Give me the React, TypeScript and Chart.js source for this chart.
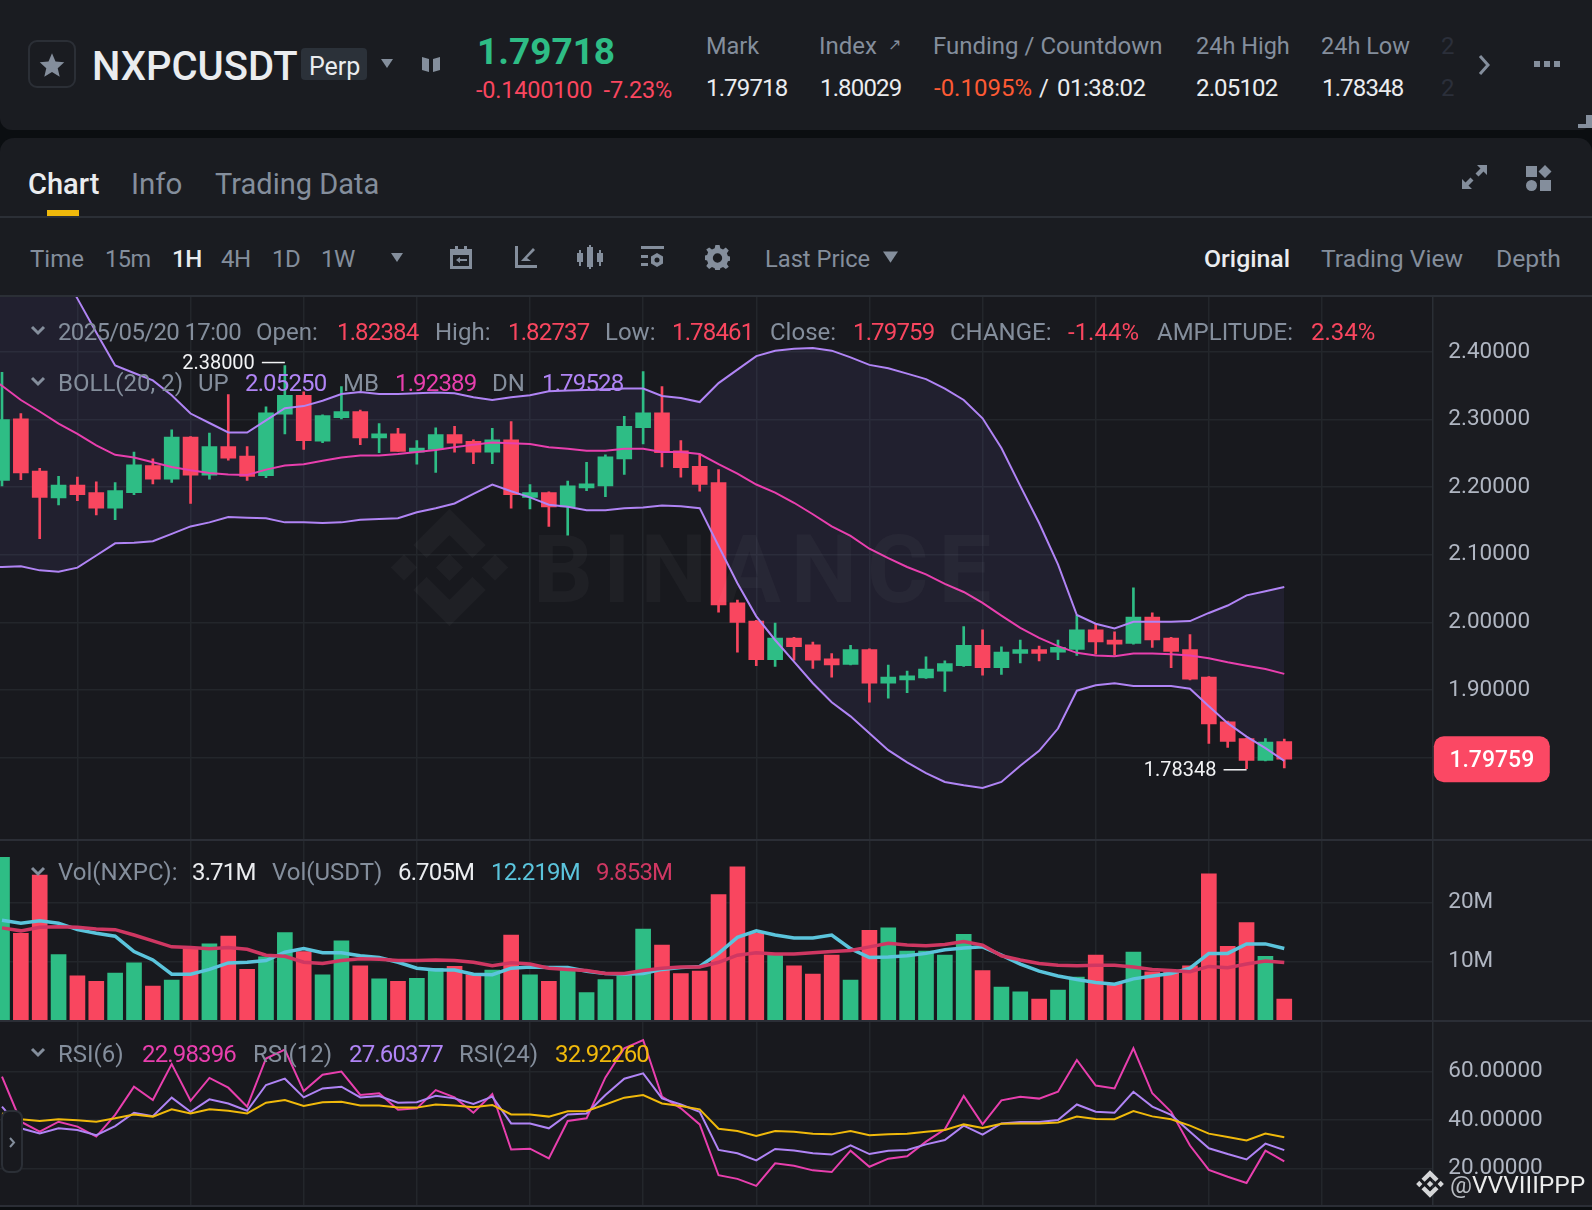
import { useEffect, useRef } from "react";
import { Chart, registerables } from "chart.js";

Chart.register(...registerables);

const candleOpen = [
  2.21, 2.301, 2.224, 2.184, 2.203, 2.192, 2.169, 2.192, 2.232, 2.212, 2.274, 2.218, 2.26, 2.246, 2.217, 2.308, 2.336, 2.268,
  2.303, 2.312, 2.273, 2.279, 2.252, 2.256, 2.278, 2.268, 2.252, 2.27, 2.185, 2.192, 2.171, 2.199, 2.202, 2.242, 2.288, 2.31,
  2.254, 2.231, 2.207, 2.029, 2.002, 1.945, 1.977, 1.967, 1.946, 1.938, 1.96, 1.91, 1.915, 1.918, 1.928, 1.936, 1.966, 1.933,
  1.954, 1.96, 1.956, 1.96, 1.989, 1.974, 1.969, 2.008, 1.977, 1.96, 1.919, 1.853, 1.828, 1.796, 1.82384,
];
const candleHigh = [
  2.37, 2.309, 2.228, 2.216, 2.215, 2.208, 2.207, 2.252, 2.242, 2.285, 2.275, 2.28, 2.337, 2.26, 2.319, 2.38, 2.341, 2.307,
  2.349, 2.314, 2.294, 2.287, 2.269, 2.288, 2.29, 2.27, 2.287, 2.297, 2.204, 2.193, 2.209, 2.237, 2.248, 2.305, 2.371, 2.349,
  2.269, 2.249, 2.226, 2.033, 2.003, 1.999, 1.978, 1.971, 1.954, 1.966, 1.961, 1.937, 1.928, 1.949, 1.943, 1.994, 1.989, 1.964,
  1.974, 1.965, 1.974, 2.011, 1.997, 1.986, 2.051, 2.014, 1.978, 1.982, 1.92, 1.854, 1.829, 1.828, 1.82737,
];
const candleLow = [
  2.202, 2.211, 2.124, 2.174, 2.18, 2.159, 2.152, 2.189, 2.205, 2.207, 2.176, 2.212, 2.24, 2.21, 2.214, 2.279, 2.256, 2.266,
  2.301, 2.263, 2.251, 2.253, 2.234, 2.222, 2.252, 2.235, 2.235, 2.169, 2.168, 2.142, 2.129, 2.195, 2.186, 2.219, 2.264, 2.23,
  2.215, 2.194, 2.015, 1.956, 1.936, 1.935, 1.944, 1.932, 1.919, 1.937, 1.882, 1.888, 1.896, 1.917, 1.898, 1.935, 1.922, 1.923,
  1.94, 1.943, 1.945, 1.951, 1.953, 1.952, 1.968, 1.963, 1.933, 1.915, 1.821, 1.815, 1.78348, 1.795, 1.78461,
];
const candleClose = [
  2.3, 2.221, 2.185, 2.203, 2.189, 2.169, 2.195, 2.233, 2.212, 2.274, 2.218, 2.26, 2.243, 2.216, 2.31, 2.336, 2.269, 2.306,
  2.312, 2.273, 2.279, 2.253, 2.258, 2.278, 2.265, 2.252, 2.27, 2.189, 2.192, 2.171, 2.202, 2.205, 2.245, 2.29, 2.31, 2.251,
  2.229, 2.204, 2.026, 2.0, 1.945, 1.977, 1.964, 1.944, 1.937, 1.96, 1.91, 1.919, 1.921, 1.931, 1.939, 1.966, 1.933, 1.956,
  1.96, 1.954, 1.963, 1.989, 1.971, 1.968, 2.008, 1.974, 1.957, 1.916, 1.85, 1.824, 1.796, 1.823, 1.79759,
];

const bollUp = [
  2.65, 2.62, 2.58, 2.53, 2.479, 2.429, 2.38, 2.369, 2.358, 2.336, 2.309, 2.295, 2.281, 2.281, 2.299, 2.317, 2.32, 2.328,
  2.338, 2.341, 2.338, 2.338, 2.339, 2.34, 2.339, 2.333, 2.329, 2.333, 2.336, 2.342, 2.343, 2.344, 2.345, 2.346, 2.346, 2.335,
  2.332, 2.326, 2.354, 2.374, 2.394, 2.402, 2.405, 2.406, 2.402, 2.392, 2.381, 2.376, 2.368, 2.36, 2.346, 2.329, 2.302, 2.258,
  2.202, 2.147, 2.086, 2.011, 1.998, 1.991, 2.001, 2.001, 2.001, 2.002, 2.014, 2.025, 2.04, 2.046, 2.0525,
];
const bollMid = [
  2.35, 2.329, 2.312, 2.294, 2.279, 2.262, 2.248, 2.244, 2.237, 2.23, 2.225, 2.221, 2.219, 2.218, 2.226, 2.232, 2.234, 2.239,
  2.244, 2.247, 2.247, 2.249, 2.252, 2.255, 2.259, 2.263, 2.266, 2.265, 2.264, 2.259, 2.257, 2.254, 2.254, 2.257, 2.257, 2.252,
  2.252, 2.249, 2.234, 2.22, 2.204, 2.192, 2.177, 2.16, 2.142, 2.128, 2.109, 2.095, 2.082, 2.071, 2.057, 2.045, 2.029, 2.01,
  1.992, 1.977, 1.965, 1.955, 1.951, 1.95, 1.954, 1.954, 1.953, 1.951, 1.947, 1.941, 1.936, 1.931, 1.92389,
];
const bollDown = [
  2.082, 2.083, 2.077, 2.075, 2.081, 2.099, 2.117, 2.118, 2.12, 2.131, 2.142, 2.148, 2.156, 2.155, 2.154, 2.148, 2.148, 2.147,
  2.148, 2.152, 2.153, 2.154, 2.163, 2.169, 2.176, 2.19, 2.204, 2.194, 2.185, 2.174, 2.171, 2.166, 2.166, 2.169, 2.17, 2.173,
  2.172, 2.169, 2.113, 2.058, 2.009, 1.974, 1.942, 1.91, 1.882, 1.861, 1.836, 1.811, 1.793, 1.777, 1.764, 1.759, 1.755, 1.764,
  1.788, 1.81, 1.843, 1.899, 1.907, 1.91, 1.906, 1.906, 1.906, 1.902, 1.876, 1.851, 1.831, 1.814, 1.79528,
];
// the candle just off the left edge, so the band reaches the edge of the panel
const bollBefore = { up: 2.68, mid: 2.37, down: 2.081 };

const volume = [
  27.6, 14.8, 24.6, 11.2, 7.6, 6.7, 8.1, 9.8, 5.9, 6.9, 12.2, 13.0, 14.3, 8.7, 10.8, 14.9, 11.7, 7.8,
  13.5, 9.3, 7.1, 6.7, 7.2, 8.9, 9.2, 7.8, 8.6, 14.5, 7.8, 6.7, 8.9, 4.8, 7.0, 7.6, 15.5, 12.8,
  8.0, 8.4, 21.3, 26.0, 14.8, 11.1, 9.3, 7.9, 11.1, 6.9, 15.3, 15.7, 11.8, 11.8, 11.1, 14.6, 8.5, 5.7,
  4.9, 3.7, 5.2, 7.4, 11.1, 6.3, 11.6, 8.3, 8.3, 9.3, 24.8, 12.6, 16.6, 10.9, 3.71,
];
const volAvgFast = [
  17.0, 16.5, 16.9, 16.5, 15.4, 14.8, 14.3, 11.7, 10.3, 7.9, 7.9, 8.7, 9.8, 9.9, 10.2, 11.6, 12.2, 11.5,
  11.5, 11.0, 10.7, 9.9, 8.9, 8.6, 8.6, 7.9, 7.8, 8.9, 9.1, 9.0, 9.0, 8.4, 8.0, 7.9, 8.0, 8.7,
  9.0, 9.2, 11.4, 14.1, 15.2, 14.5, 14.0, 14.0, 14.5, 12.2, 10.7, 10.8, 11.0, 11.4, 12.0, 12.3, 12.5, 11.1,
  9.6, 8.4, 7.6, 7.0, 6.5, 6.2, 7.1, 7.6, 8.0, 8.9, 11.4, 11.4, 13.0, 13.0, 12.219,
];
const volAvgSlow = [
  15.7, 15.2, 15.8, 15.9, 15.8, 15.5, 15.4, 14.5, 13.5, 12.5, 12.4, 12.2, 12.4, 12.1, 11.1, 10.9, 9.9, 9.7,
  10.2, 10.5, 10.4, 10.2, 10.2, 10.3, 10.2, 9.9, 9.3, 9.8, 9.6, 8.9, 8.7, 8.5, 8.0, 8.0, 8.5, 8.9,
  9.1, 9.1, 9.9, 11.1, 11.5, 11.3, 11.3, 11.5, 11.7, 11.9, 12.5, 13.1, 12.8, 12.7, 12.9, 13.4, 12.8, 11.0,
  10.3, 9.7, 9.4, 9.3, 9.4, 9.4, 9.1, 8.7, 8.5, 8.3, 9.2, 9.0, 9.6, 10.1, 9.853,
];

const rsi6 = [
  57.8, 39.3, 35.2, 39.3, 37.3, 33.2, 42.1, 53.7, 48.2, 63.0, 47.9, 57.3, 53.3, 45.5, 65.3, 69.0, 51.9, 58.6,
  59.9, 50.3, 51.0, 44.2, 44.8, 52.3, 49.3, 43.0, 50.7, 27.9, 28.2, 24.2, 39.6, 40.7, 57.5, 69.5, 72.9, 49.6,
  44.8, 38.2, 17.3, 15.8, 12.9, 22.2, 21.2, 19.3, 18.6, 27.4, 20.8, 24.1, 25.1, 31.1, 36.2, 49.9, 38.2, 48.1,
  49.6, 48.8, 51.6, 64.7, 54.2, 53.0, 69.5, 51.0, 43.4, 29.5, 19.5, 16.7, 14.1, 27.4, 22.98,
];
const rsi12 = [
  45.5, 36.6, 34.5, 36.6, 35.9, 33.8, 37.5, 43.0, 41.6, 49.2, 43.4, 48.5, 46.8, 43.8, 54.4, 57.0, 49.3, 53.0,
  53.7, 49.3, 49.9, 47.1, 47.3, 50.0, 48.9, 46.6, 49.6, 38.6, 38.6, 36.6, 42.3, 42.7, 50.3, 57.0, 59.2, 48.9,
  46.4, 43.4, 27.7, 26.3, 23.4, 28.1, 27.5, 26.3, 25.8, 29.6, 26.0, 27.4, 27.7, 30.0, 31.8, 37.7, 34.0, 38.6,
  39.2, 39.2, 40.0, 46.4, 43.4, 43.0, 51.6, 45.5, 42.1, 35.2, 28.4, 26.0, 23.8, 30.3, 27.6,
];
const rsi24 = [
  42.7, 40.3, 39.6, 40.3, 39.9, 39.3, 40.7, 42.3, 41.4, 44.4, 42.7, 44.4, 43.8, 42.7, 47.1, 48.2, 45.8, 47.3,
  47.5, 46.0, 46.0, 45.1, 45.1, 46.4, 46.0, 45.3, 46.2, 42.3, 42.3, 41.4, 43.6, 43.7, 46.4, 49.2, 50.3, 46.8,
  45.8, 44.4, 36.4, 35.5, 33.4, 35.5, 35.2, 34.4, 34.1, 35.5, 33.7, 34.1, 34.4, 35.2, 35.9, 38.2, 36.7, 38.5,
  38.6, 38.6, 39.0, 41.4, 40.4, 40.3, 43.7, 41.5, 40.3, 37.7, 34.4, 33.0, 31.6, 34.4, 32.92,
];

const priceTicks = [1.8, 1.9, 2.0, 2.1, 2.2, 2.3, 2.4];
const volumeTicks = [10, 20];
const rsiTicks = [20, 40, 60];
const timeGridCandles = [4, 10, 16, 22, 28, 34, 40, 46, 52, 58, 64, 70];

const highMark = { candle: 15, price: 2.38, label: "2.38000" };
const lowMark = { candle: 66, price: 1.78348, label: "1.78348" };
const lastPrice = 1.79759;

const UP_COLOR = "#2ebd85";
const DOWN_COLOR = "#f9465f";
const GRID = "#23262b";
const AXIS_LINE = "#2a2e35";
const LABEL = "#848e9c";
const AXIS_LABEL = "#b0b6c2";
const VIOLET = "#b084f5";
const MAGENTA = "#e83fae";
const FONT = "Roboto, sans-serif";
const AXIS_WIDTH = 1592 - 1432.3;

const pts = (values: number[]) => values.map((y, x) => ({ x, y }));
const candleColors = candleClose.map((c, i) => (c >= candleOpen[i] ? UP_COLOR : DOWN_COLOR));

function lineSet(values: number[], color: string, width: number, extra = {}) {
  return {
    type: "line",
    data: pts(values),
    borderColor: color,
    borderWidth: width,
    pointRadius: 0,
    tension: 0,
    fill: false,
    order: 0,
    ...extra,
  };
}

function panelOptions(min: number, max: number, ticks: number[], label: (v: number) => string) {
  return {
    animation: false,
    responsive: false,
    events: [],
    layout: { padding: 0 },
    plugins: {
      legend: { display: false },
      tooltip: { enabled: false },
      filler: { drawTime: "beforeDatasetsDraw" },
    },
    datasets: { bar: { grouped: false, barPercentage: 1, categoryPercentage: 1 } },
    scales: {
      x: {
        type: "linear",
        offset: false,
        min: -0.106,
        max: 75.85,
        grid: { color: GRID, lineWidth: 1.5, drawTicks: false, offset: false },
        border: { display: false },
        ticks: { display: false },
        afterBuildTicks: (s: any) => {
          s.ticks = timeGridCandles.map((value) => ({ value }));
        },
      },
      y: {
        position: "right",
        min,
        max,
        grid: { color: GRID, lineWidth: 1.5, drawTicks: false },
        border: { display: true, color: AXIS_LINE, width: 1.5 },
        ticks: {
          padding: 16,
          color: AXIS_LABEL,
          font: { family: FONT, size: 22.5 },
          callback: (v: number) => label(v),
        },
        afterBuildTicks: (s: any) => {
          s.ticks = ticks.map((value) => ({ value }));
        },
        // labels must not push the plot area away from the panel edges
        afterFit: (s: any) => {
          s.width = AXIS_WIDTH;
          s.paddingTop = 0;
          s.paddingBottom = 0;
        },
      },
    },
  };
}

// high / low call-outs and the last price tag on the price panel
const priceMarks = {
  id: "priceMarks",
  afterDraw(chart: any) {
    const { ctx, scales } = chart;
    ctx.save();
    ctx.font = `20px ${FONT}`;
    ctx.textBaseline = "middle";
    ctx.textAlign = "right";
    ctx.fillStyle = "#f2f3f5";
    ctx.strokeStyle = "#f2f3f5";
    ctx.lineWidth = 1.5;
    [highMark, lowMark].forEach((m, i) => {
      const x = scales.x.getPixelForValue(m.candle);
      const y = scales.y.getPixelForValue(m.price) + (i === 0 ? -3 : 1);
      ctx.beginPath();
      ctx.moveTo(x - 23, y);
      ctx.lineTo(x, y);
      ctx.stroke();
      ctx.fillText(m.label, x - 30, y + 1);
    });
    const tagY = scales.y.getPixelForValue(lastPrice);
    const tagX = scales.y.left + 1.5;
    ctx.fillStyle = "#fb4864";
    ctx.beginPath();
    ctx.roundRect(tagX, tagY - 23, 116, 46, 10);
    ctx.fill();
    ctx.fillStyle = "#ffffff";
    ctx.textAlign = "center";
    ctx.font = `500 23px ${FONT}`;
    ctx.fillText(lastPrice.toFixed(5), tagX + 58, tagY + 2);
    ctx.restore();
  },
};

type TProps = {
  x: number;
  y: number;
  size?: number;
  color?: string;
  weight?: number;
  children: any;
  spacing?: number;
};

// absolute text, y is the baseline
function T({ x, y, size = 24, color = LABEL, weight = 400, children, spacing }: TProps) {
  return (
    <div
      style={{
        position: "absolute",
        left: x,
        top: y - size * 0.34,
        lineHeight: 0,
        fontSize: size,
        color,
        fontWeight: weight,
        whiteSpace: "nowrap",
        letterSpacing: spacing,
      }}
    >
      {children}
    </div>
  );
}

// numbers run narrower than Roboto's digits in the original
const N = (props: TProps) => <T spacing={-0.85} {...props} />;

function Box({ x, y, w, h, bg, style }: any) {
  return <div style={{ position: "absolute", left: x, top: y, width: w, height: h, background: bg, ...style }} />;
}

function Icon({ x, y, w, h, view, children }: any) {
  return (
    <svg style={{ position: "absolute", left: x, top: y }} width={w} height={h} viewBox={view}>
      {children}
    </svg>
  );
}

const Caret = ({ x, y, s = 12 }: any) => (
  <Icon x={x - s / 2} y={y - s / 2} w={s} h={s} view="0 0 12 12">
    <path d="M0 2h12L6 11z" fill={LABEL} />
  </Icon>
);

const Chevron = ({ y }: any) => (
  <Icon x={30} y={y - 6} w={16} h={12} view="0 0 16 12">
    <path d="M2 2l6 6 6-6" fill="none" stroke={LABEL} strokeWidth="3" />
  </Icon>
);

const BINANCE_LOGO =
  "M38.73 53.2L63 28.93l24.28 24.28 14.12-14.12L63 .69 24.61 39.08zM.69 63l14.12-14.12L28.93 63 14.81 77.12zM38.73 72.8L63 97.07l24.28-24.28 14.13 14.11L63 125.31 24.61 86.92l-.02-.02zM97.07 63l14.12-14.12L125.31 63l-14.12 14.12zM77.32 63L63 48.67 52.41 59.26l-1.22 1.22-2.51 2.51L63 77.32 77.32 63z";

export default function App() {
  const priceRef = useRef<HTMLCanvasElement>(null);
  const volRef = useRef<HTMLCanvasElement>(null);
  const rsiRef = useRef<HTMLCanvasElement>(null);

  useEffect(() => {
    document.body.style.margin = "0";
    document.body.style.background = "#0b0e11";
    if (!priceRef.current || !volRef.current || !rsiRef.current) return;

    const priceChart = new Chart(priceRef.current, {
      type: "bar",
      data: {
        datasets: [
          lineSet(bollUp, VIOLET, 2, {
            data: [{ x: -1, y: bollBefore.up }, ...pts(bollUp)],
            fill: { target: 2 },
            backgroundColor: "rgba(130,110,220,0.09)",
          }),
          lineSet(bollMid, MAGENTA, 2, { data: [{ x: -1, y: bollBefore.mid }, ...pts(bollMid)] }),
          lineSet(bollDown, VIOLET, 2, { data: [{ x: -1, y: bollBefore.down }, ...pts(bollDown)] }),
          {
            data: candleClose.map((c, x) => ({ x, y: [candleOpen[x], c] })),
            backgroundColor: candleColors,
            maxBarThickness: 15,
            order: 1,
          },
          {
            data: candleHigh.map((h, x) => ({ x, y: [candleLow[x], h] })),
            backgroundColor: candleColors,
            maxBarThickness: 2,
            order: 2,
          },
        ],
      },
      options: panelOptions(1.6796, 2.4814, priceTicks, (v) => (v < 1.85 ? "" : v.toFixed(5))),
      plugins: [priceMarks],
    } as any);

    const volChart = new Chart(volRef.current, {
      type: "bar",
      data: {
        datasets: [
          lineSet(volAvgSlow, "#cf3762", 3.5),
          lineSet(volAvgFast, "#5bc4dc", 3.5, { order: 0.5 }),
          {
            data: pts(volume),
            backgroundColor: candleColors,
            maxBarThickness: 15,
            order: 1,
          },
        ],
      },
      options: panelOptions(0, 30.35, volumeTicks, (v) => `${v}M`),
    } as any);

    const rsiChart = new Chart(rsiRef.current, {
      type: "line",
      data: {
        datasets: [
          lineSet(rsi24, "#f0b90b", 2),
          lineSet(rsi12, VIOLET, 2, { order: 0.5 }),
          lineSet(rsi6, MAGENTA, 2, { order: 0.7 }),
        ],
      },
      options: panelOptions(4.65, 80.3, rsiTicks, (v) => v.toFixed(5)),
    } as any);

    return () => {
      priceChart.destroy();
      volChart.destroy();
      rsiChart.destroy();
    };
  }, []);

  const canvasStyle = (top: number) => ({ position: "absolute" as const, left: 0, top });

  return (
    <div
      style={{
        position: "absolute",
        left: 0,
        top: 0,
        width: 1592,
        height: 1210,
        overflow: "hidden",
        background: "#0b0e11",
        fontFamily: FONT,
      }}
    >
      {/* header */}
      <Box x={0} y={0} w={1592} h={130} bg="#1a1c21" style={{ borderRadius: "0 0 12px 12px" }} />
      <Box x={28} y={40} w={48} h={48} bg="transparent" style={{ border: "2px solid #2b2f36", borderRadius: 9, boxSizing: "border-box" }} />
      <Icon x={38} y={51} w={28} h={28} view="0 0 24 24">
        <path d="M12 2l3 7 7.5.7-5.6 5 1.7 7.3L12 18l-6.6 4 1.7-7.3-5.6-5L9 9z" fill={LABEL} />
      </Icon>
      <T x={92} y={81} size={40} color="#eaecef" weight={500}>NXPCUSDT</T>
      <Box x={301} y={48} w={66} h={32} bg="#2b3139" style={{ borderRadius: 4 }} />
      <T x={309} y={75} size={25} color="#eaecef">Perp</T>
      <Caret x={387} y={63} />
      <Icon x={421} y={55} w={20} h={18} view="0 0 20 18">
        <path d="M1 2l7 2v13l-7-2zM19 2l-7 2v13l7-2z" fill={LABEL} />
      </Icon>
      <T x={477} y={65} size={37} color={UP_COLOR} weight={700}>1.79718</T>
      <T x={476} y={98} size={23.5} color={DOWN_COLOR} spacing={-0.2}>-0.1400100&nbsp;&nbsp;-7.23%</T>
      <T x={706} y={54} size={23.5}>Mark</T>
      <N x={706} y={96} color="#eaecef">1.79718</N>
      <T x={819} y={54}>Index</T>
      <T x={888} y={50} size={16}>↗</T>
      <N x={820} y={96} color="#eaecef">1.80029</N>
      <T x={933} y={54}>Funding / Countdown</T>
      <T x={934} y={96} color="#fd5a34">-0.1095%</T>
      <T x={1039} y={96} color="#eaecef">/</T>
      <N x={1057} y={96} color="#eaecef" spacing={-0.5}>01:38:02</N>
      <T x={1196} y={54} size={23.5}>24h High</T>
      <N x={1196} y={96} color="#eaecef">2.05102</N>
      <T x={1321} y={54} size={23.5}>24h Low</T>
      <N x={1322} y={96} color="#eaecef">1.78348</N>
      <T x={1441} y={54} color="#2b2f3a">2</T>
      <T x={1441} y={96} color="#2b2f3a">2</T>
      <Icon x={1477} y={54} w={14} h={22} view="0 0 14 22">
        <path d="M3 2l8 9-8 9" fill="none" stroke={LABEL} strokeWidth="3" />
      </Icon>
      <Box x={1534} y={61} w={6} h={6} bg={LABEL} />
      <Box x={1544} y={61} w={6} h={6} bg={LABEL} />
      <Box x={1554} y={61} w={6} h={6} bg={LABEL} />
      <Box x={1578} y={124} w={14} h={4} bg="#848e9c" />
      <Box x={1586} y={115} w={6} h={10} bg="#848e9c" />

      {/* tabs and toolbar */}
      <Box x={0} y={138} w={1592} h={159} bg="#1a1c21" style={{ borderRadius: "14px 14px 0 0" }} />
      <T x={28} y={194} size={29} color="#eaecef" weight={500}>Chart</T>
      <T x={131} y={194} size={29.5}>Info</T>
      <T x={215} y={194} size={29}>Trading Data</T>
      <Box x={47} y={210} w={32} h={6} bg="#f0b90b" />
      <Box x={0} y={216} w={1592} h={2} bg="#2b2f36" />
      <Icon x={1461} y={164} w={27} h={26} view="0 0 27 26">
        <path d="M26 1v10l-3.5-3.5-5 5-3-3 5-5L16 1zM1 25V15l3.5 3.5 5-5 3 3-5 5L11 25z" fill={LABEL} />
      </Icon>
      <Icon x={1525} y={165} w={27} h={27} view="0 0 27 27">
        <path d="M1 1h11v11H1zM20 0l6.500 6.500L20 13l-6.500-6.500zM15 15h11v11H15z" fill={LABEL} />
        <circle cx="6.500" cy="20.500" r="5.500" fill={LABEL} />
      </Icon>

      <T x={30} y={267}>Time</T>
      <T x={105} y={267} size={23.5} spacing={-0.4}>15m</T>
      <T x={172} y={267} color="#eaecef" weight={500} spacing={-0.4}>1H</T>
      <T x={221} y={267} spacing={-0.4}>4H</T>
      <T x={272} y={267} spacing={-0.4}>1D</T>
      <T x={321} y={267} spacing={-0.4}>1W</T>
      <Caret x={397} y={257} />
      <Icon x={450} y={245} w={22} h={24} view="0 0 22 24">
        <path d="M0 4h5V1h3v3h6V1h3v3h5v20H0zM3 10v11h16V10z M6 15l4-3v2h7v2h-7v2z" fill={LABEL} fillRule="evenodd" />
      </Icon>
      <Icon x={514} y={245} w={24} h={24} view="0 0 24 24">
        <path d="M1 1h3v19h19v3H1zM7 16L19 3l2 2-8 8 4 3z" fill={LABEL} />
      </Icon>
      <Icon x={576} y={245} w={28} h={24} view="0 0 28 24">
        <path d="M1 8h6v9H1zM3 5h2v16H3zM11 2h6v20h-6zM13 0h2v24h-2zM21 8h6v9h-6zM23 5h2v16h-2z" fill={LABEL} />
      </Icon>
      <Icon x={640} y={245} w={25} h={25} view="0 0 25 25">
        <path d="M1 1h23v3H1zM1 10h7v3H1zM1 18h7v3H1z" fill={LABEL} />
        <path d="M17 8l6 3.500v7L17 22l-6-3.500v-7z M17 12.500a2.500 2.500 0 100 5 2.500 2.500 0 000-5z" fill={LABEL} fillRule="evenodd" />
      </Icon>
      <Icon x={705} y={245} w={25} h={25} view="0 0 24 24">
        <path d="M10 0h4l.7 3.200 2.600 1.100L20 2.500 22.800 5.300 21 8l1 2.600 3 .6v3.800l-3 .6-1 2.600 1.800 2.700L20 23l-2.700-1.800-2.600 1L14 25h-4l-.7-2.800-2.600-1L4 23l-2.800-2.800L3 17.500l-1-2.600L-1 14v-3.800l3-.6 1-2.600-1.800-2.700L4 2.500l2.700 1.800 2.600-1.100zM12 8a4.500 4.500 0 100 9 4.500 4.500 0 000-9z" fill={LABEL} fillRule="evenodd" />
      </Icon>
      <T x={765} y={267} size={23.7}>Last Price</T>
      <Caret x={890} y={256} s={15} />
      <T x={1204} y={267} size={24.8} color="#eaecef" weight={500}>Original</T>
      <T x={1321} y={267} size={24.7}>Trading View</T>
      <T x={1496} y={267} size={24.7}>Depth</T>
      <Box x={0} y={295} w={1592} h={2} bg="#2b2f36" />

      {/* chart backgrounds */}
      <Box x={0} y={297} w={1433} h={910} bg="#18191e" />
      <Box x={1433} y={297} w={159} h={910} bg="#1b1c21" />

      <canvas ref={priceRef} width={1592} height={542} style={canvasStyle(297)} />
      <Box x={0} y={839} w={1592} h={2} bg="#2b2e36" />
      <canvas ref={volRef} width={1592} height={180} style={canvasStyle(841)} />
      <Box x={0} y={1020} w={1592} h={2} bg="#2b2e36" />
      <canvas ref={rsiRef} width={1592} height={184} style={canvasStyle(1022)} />
      <Box x={0} y={1205} w={1592} h={2} bg="#2b2e36" />

      {/* watermark */}
      <Icon x={389} y={508} w={121} h={119} view="0 0 126 126">
        <path d={BINANCE_LOGO} fill="rgba(255,255,255,0.03)" />
      </Icon>
      <T x={533} y={602} size={94} color="rgba(255,255,255,0.03)" weight={700} spacing={10}>BINANCE</T>

      {/* legends */}
      <Chevron y={331} />
      <T x={58} y={340} spacing={-0.65}>2025/05/20 17:00</T>
      <T x={256} y={340}>Open:</T>
      <N x={337} y={340} color={DOWN_COLOR}>1.82384</N>
      <T x={435} y={340}>High:</T>
      <N x={508} y={340} color={DOWN_COLOR}>1.82737</N>
      <T x={605} y={340}>Low:</T>
      <N x={672} y={340} color={DOWN_COLOR}>1.78461</N>
      <T x={770} y={340}>Close:</T>
      <N x={853} y={340} color={DOWN_COLOR}>1.79759</N>
      <T x={950} y={340}>CHANGE:</T>
      <T x={1068} y={340} color={DOWN_COLOR}>-1.44%</T>
      <T x={1157} y={340}>AMPLITUDE:</T>
      <T x={1311} y={340} color={DOWN_COLOR}>2.34%</T>

      <Chevron y={382} />
      <T x={58} y={391}>BOLL(20, 2)</T>
      <T x={198} y={391}>UP</T>
      <N x={245} y={391} color={VIOLET}>2.05250</N>
      <T x={343} y={391}>MB</T>
      <N x={395} y={391} color={MAGENTA}>1.92389</N>
      <T x={492} y={391}>DN</T>
      <N x={542} y={391} color={VIOLET}>1.79528</N>

      <Chevron y={872} />
      <T x={58} y={880}>Vol(NXPC):</T>
      <N x={192} y={880} color="#eaecef">3.71M</N>
      <T x={272} y={880}>Vol(USDT)</T>
      <N x={398} y={880} color="#eaecef">6.705M</N>
      <N x={491} y={880} color="#5bc4dc">12.219M</N>
      <N x={596} y={880} color="#cf3762">9.853M</N>

      <Chevron y={1053} />
      <T x={58} y={1062}>RSI(6)</T>
      <N x={142} y={1062} color={MAGENTA}>22.98396</N>
      <T x={253} y={1062}>RSI(12)</T>
      <N x={349} y={1062} color={VIOLET}>27.60377</N>
      <T x={459} y={1062}>RSI(24)</T>
      <N x={555} y={1062} color="#f0b90b">32.92260</N>

      {/* collapse handle */}
      <Box x={1} y={1110} w={22} h={63} bg="#18191e" style={{ border: "2px solid #2b2f36", borderRadius: 8, boxSizing: "border-box" }} />
      <Icon x={8} y={1136} w={9} h={13} view="0 0 9 13">
        <path d="M2 2l4 4.500L2 11" fill="none" stroke={LABEL} strokeWidth="2" />
      </Icon>

      {/* corner mark */}
      <Icon x={1416} y={1170} w={28} h={28} view="0 0 126 126">
        <path d={BINANCE_LOGO} fill="#d5d6d8" />
      </Icon>
      <T x={1450} y={1193} size={24.5} color="#eceded">
        <span style={{ color: "#b8bcc2" }}>@</span>VVVIIIPPP
      </T>
    </div>
  );
}
